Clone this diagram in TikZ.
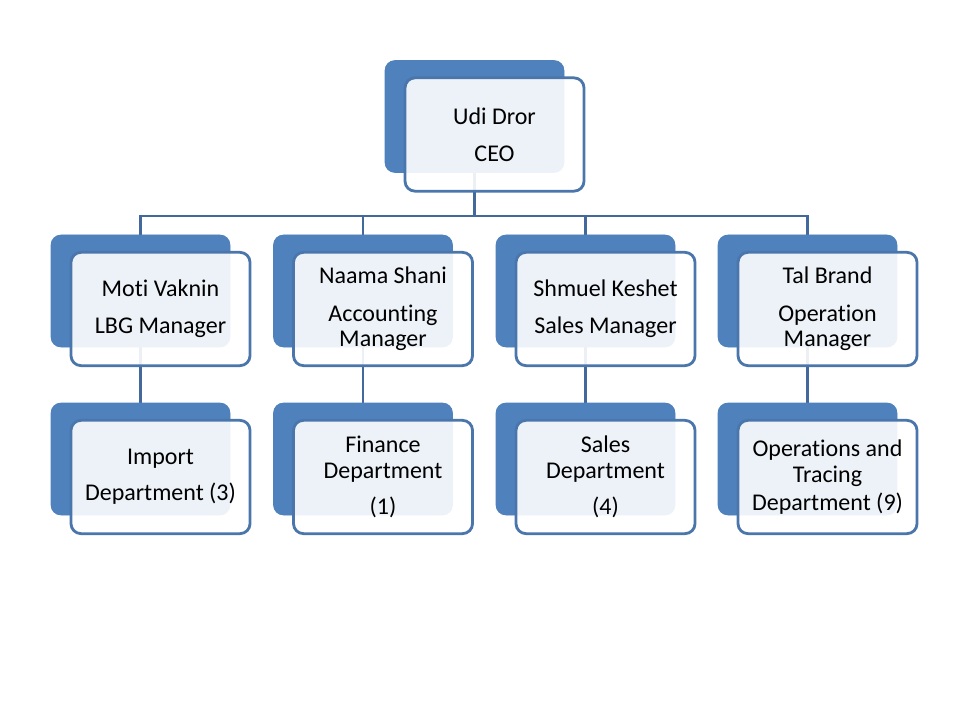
\documentclass[tikz,border=0pt]{standalone}
\usepackage{fontspec}
\setmainfont{Carlito}[Ligatures={CommonOff}]
\usetikzlibrary{calc}
\definecolor{accfill}{RGB}{79,129,189}
\definecolor{accline}{RGB}{74,118,172}
\definecolor{connline}{RGB}{67,105,156}
\begin{document}
\begin{tikzpicture}[x=0.75pt,y=-0.75pt,
  backbox/.style={rectangle,rounded corners=7.5pt,fill=accfill,inner sep=0pt,
    minimum width=134.25pt,minimum height=84pt},
  frontbox/.style={rectangle,rounded corners=7.5pt,draw=accline,line width=2.1pt,
    fill=white,fill opacity=0.9,text opacity=1,inner sep=0pt,
    minimum width=134.25pt,minimum height=85pt,align=center,
    font=\fontsize{18}{19.2}\selectfont},
  conn/.style={draw=connline,line width=2.1pt,line cap=rect}]
\useasboundingbox (0,0) rectangle (960,720);
\fill[white] (0,0) rectangle (960,720);
% back boxes
\node[backbox] (ceoB) at (474.5,116.5) {};
\node[backbox] (m1B) at (140.5,291) {};
\node[backbox] (m2B) at (363,291) {};
\node[backbox] (m3B) at (585.5,291) {};
\node[backbox] (m4B) at (807.5,291) {};
\node[backbox] (d1B) at (140.5,459) {};
\node[backbox] (d2B) at (363,459) {};
\node[backbox] (d3B) at (585.5,459) {};
\node[backbox] (d4B) at (807.5,459) {};
\coordinate (bus) at (0,216);
% connectors
\draw[conn] (ceoB.south) -- (ceoB.south |- bus);
\draw[conn] (m1B.north |- bus) -- (m4B.north |- bus);
\foreach \i in {1,2,3,4}{
  \draw[conn] (m\i B.north) -- (m\i B.north |- bus);
  \draw[conn] (m\i B.south) -- (d\i B.north);
}
% redraw back boxes over connectors
\foreach \n in {ceoB,m1B,m2B,m3B,m4B,d1B,d2B,d3B,d4B}{
  \fill[accfill,rounded corners=7.5pt] (\n.north west) rectangle (\n.south east);
}
% front boxes
\node[frontbox] (ceo) at ($(ceoB.center)+(20,18)$) {Udi Dror\\[8.5pt]CEO};
\node[frontbox] (m1) at ($(m1B.center)+(20,18)$) {Moti Vaknin\\[8.5pt]LBG Manager};
\node[frontbox] (m2) at ($(m2B.center)+(20,18)$) {Naama Shani\\[9pt]Accounting\\Manager};
\node[frontbox] (m3) at ($(m3B.center)+(20,18)$) {Shmuel Keshet\\[8.5pt]Sales Manager};
\node[frontbox] (m4) at ($(m4B.center)+(20,18)$) {Tal Brand\\[9pt]Operation\\Manager};
\node[frontbox] (d1) at ($(d1B.center)+(20,18)$) {Import\\[8pt]Department (3)};
\node[frontbox] (d2) at ($(d2B.center)+(20,18)$) {Finance\\Department\\[8pt](1)};
\node[frontbox] (d3) at ($(d3B.center)+(20,18)$) {Sales\\Department\\[8pt](4)};
\node[frontbox] (d4) at ($(d4B.center)+(20,18)$) {Operations and\\Tracing\\[2pt]Department (9)};
\end{tikzpicture}
\end{document}
